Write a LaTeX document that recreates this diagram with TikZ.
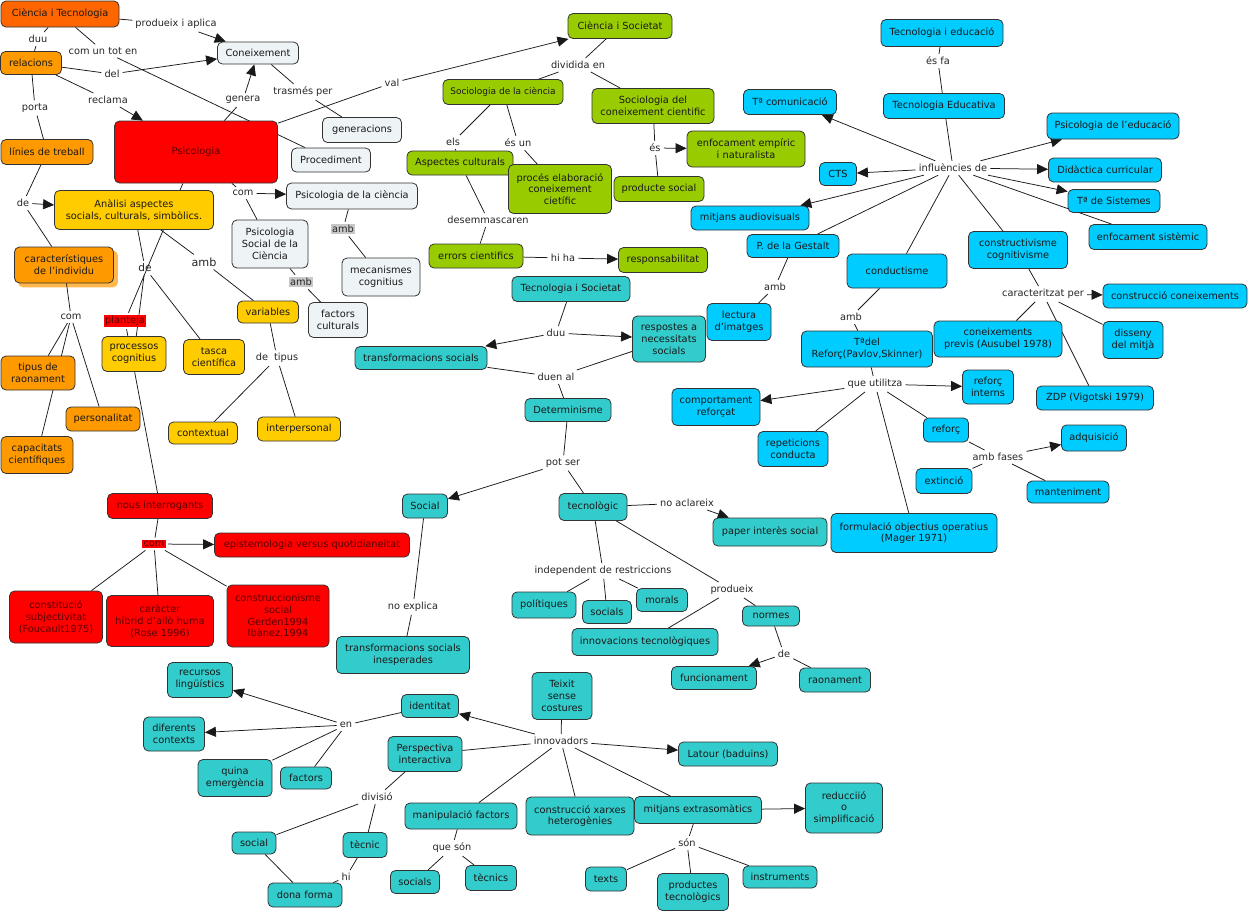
\documentclass[tikz,border=0pt]{standalone}
\usepackage{fontspec}
\setmainfont{DejaVu Sans}
\usetikzlibrary{arrows.meta, backgrounds}

\definecolor{ctorange}{HTML}{FF6600}
\definecolor{corange}{HTML}{FF9900}
\definecolor{cshadow}{HTML}{FFB84D}
\definecolor{cyellow}{HTML}{FFCC00}
\definecolor{cred}{HTML}{FF0000}
\definecolor{credtext}{HTML}{5A0000}
\definecolor{cgrey}{HTML}{EEF3F6}
\definecolor{cgreen}{HTML}{99CC00}
\definecolor{ccyan}{HTML}{00CCFF}
\definecolor{cteal}{HTML}{33CCCC}
\definecolor{cambgrey}{HTML}{C8C8C8}

\begin{document}
\begin{tikzpicture}[x=1pt, y=-1pt,
    font=\fontsize{9.8}{11.8}\selectfont,
    concept/.style={rectangle, draw=black!80, line width=0.8pt, rounded corners=5pt, align=center, inner sep=1pt, text=black!90},
    sz/.style args={#1x#2}{minimum width=#1pt, minimum height=#2pt},
    ctbox/.style={concept, fill=ctorange},
    orangebox/.style={concept, fill=corange},
    yellowbox/.style={concept, fill=cyellow},
    redbox/.style={concept, fill=cred, text=credtext},
    greybox/.style={concept, fill=cgrey},
    greenbox/.style={concept, fill=cgreen},
    cyanbox/.style={concept, fill=ccyan},
    tealbox/.style={concept, fill=cteal},
    phrase/.style={inner sep=3pt, text=black!85},
    ambtag/.style={phrase, fill=cambgrey, inner sep=1.5pt, outer sep=2pt},
    redtag/.style={phrase, fill=cred, text=credtext, inner sep=1.5pt, outer sep=2pt},
    conn/.style={line width=0.75pt, black!90},
    arrow/.style={conn, -{Triangle[length=11pt, width=10pt]}}
]
\useasboundingbox (0,0) rectangle (1250,914);

% concepts
\node[ctbox, sz=118x26] (cit) at (60,14) {Ciència i Tecnologia};
\node[orangebox, sz=61x23] (relacions) at (31,63) {relacions};
\node[orangebox, sz=92x25] (linies) at (47,152) {línies de treball};
\node[orangebox, sz=99x36] (caract) at (64,265) {característiques\\de l'individu};
\node[orangebox, sz=74x34] (tipus) at (38,373) {tipus de\\raonament};
\node[orangebox, sz=74x24] (personalitat) at (103,419) {personalitat};
\node[orangebox, sz=72x37] (capacitats) at (37,455) {capacitats\\científiques};

\node[yellowbox, sz=159x39] (analisi) at (134,210) {Anàlisi aspectes\\socials, culturals, simbòlics.};
\node[yellowbox, sz=64x35] (processos) at (134,354) {processos\\cognitius};
\node[yellowbox, sz=61x35] (tasca) at (214,357) {tasca\\científica};
\node[yellowbox, sz=61x22] (variables) at (268,312) {variables};
\node[yellowbox, sz=69x22] (contextual) at (203,433) {contextual};
\node[yellowbox, sz=83x24] (interpersonal) at (299,429) {interpersonal};

\node[redbox, sz=163x62] (psico) at (196,152) {Psicologia};
\node[redbox, sz=105x25] (nous) at (160,506) {nous interrogants};
\node[redbox, sz=195x24] (episte) at (312,545) {epistemologia versus quotidianeitat};
\node[redbox, sz=93x52] (constit) at (56,617) {constitució\\subjectivitat\\(Foucault1975)};
\node[redbox, sz=107x51] (caracter) at (160,621) {caràcter\\híbrid d'allò huma\\(Rose 1996)};
\node[redbox, sz=102x62] (construcc) at (278,616) {construccionisme\\social\\Gerden1994\\Ibànez,1994};

\node[greybox, sz=81x22] (coneix) at (258,53) {Coneixement};
\node[greybox, sz=79x25] (generacions) at (362,130) {generacions};
\node[greybox, sz=79x24] (procediment) at (331,160) {Procediment};
\node[greybox, sz=131x26] (psicociencia) at (352,196) {Psicologia de la ciència};
\node[greybox, sz=76x48] (psicosocial) at (270,244) {Psicologia\\Social de la\\Ciència};
\node[greybox, sz=78x38] (mecanismes) at (381,277) {mecanismes\\cognitius};
\node[greybox, sz=59x35] (factcult) at (338,320) {factors\\culturals};

\node[greenbox, sz=104x25] (cisoc) at (620,26) {Ciència i Societat};
\node[greenbox, sz=120x25, font=\fontsize{9}{11}\selectfont] (sociociencia) at (503,92) {Sociologia de la ciència};
\node[greenbox, sz=122x35] (socioconeix) at (653,106) {Sociologia del\\coneixement cientific};
\node[greenbox, sz=106x24] (aspectes) at (460,163) {Aspectes culturals};
\node[greenbox, sz=103x49] (proces) at (560,189) {procés elaboració\\coneixement\\cietífic};
\node[greenbox, sz=118x36] (enfocament) at (746,149) {enfocament empíric\\i naturalista};
\node[greenbox, sz=90x25] (producte) at (659,189) {producte social};
\node[greenbox, sz=94x24] (errors) at (476,256) {errors cientifics};
\node[greenbox, sz=89x25] (responsab) at (663,260) {responsabilitat};

\node[cyanbox, sz=122x27] (tecedu) at (942,33) {Tecnologia i educació};
\node[cyanbox, sz=121x25] (teceduc) at (944,106) {Tecnologia Educativa};
\node[cyanbox, sz=93x25] (tcomunic) at (790,102) {Tª comunicació};
\node[cyanbox, sz=37x23] (cts) at (838,174) {CTS};
\node[cyanbox, sz=118x24] (mitjansav) at (750,218) {mitjans audiovisuals};
\node[cyanbox, sz=132x26] (psicoedu) at (1113,126) {Psicologia de l'educació};
\node[cyanbox, sz=113x24] (didactica) at (1105,170) {Didàctica curricular};
\node[cyanbox, sz=92x23] (tsistemes) at (1114,201) {Tª de Sistemes};
\node[cyanbox, sz=118x25] (enfsistemic) at (1148,237) {enfocament sistèmic};
\node[cyanbox, sz=92x23] (gestalt) at (793,246) {P. de la Gestalt};
\node[cyanbox, sz=64x37] (lectura) at (739,322) {lectura\\d'imatges};
\node[cyanbox, sz=100x34] (conductisme) at (897,271) {conductisme};
\node[cyanbox, sz=99x37] (constructiv) at (1018,250) {constructivisme\\cognitivisme};
\node[cyanbox, sz=144x24] (construccio) at (1175,296) {construcció coneixements};
\node[cyanbox, sz=128x36] (previs) at (998,339) {coneixements\\previs (Ausubel 1978)};
\node[cyanbox, sz=60x37] (disseny) at (1133,340) {disseny\\del mitjà};
\node[cyanbox, sz=117x24] (zdp) at (1095,398) {ZDP (Vigotski 1979)};
\node[cyanbox, sz=131x36] (treforc) at (867,349) {Tªdel\\Reforç(Pavlov,Skinner)};
\node[cyanbox, sz=51x34] (interns) at (988,387) {reforç\\interns};
\node[cyanbox, sz=88x37] (comport) at (716,407) {comportament\\reforçat};
\node[cyanbox, sz=70x35] (repeticions) at (793,449) {repeticions\\conducta};
\node[cyanbox, sz=45x24] (reforc) at (946,430) {reforç};
\node[cyanbox, sz=65x26] (adquisicio) at (1094,438) {adquisició};
\node[cyanbox, sz=56x25] (extincio) at (944,481) {extinció};
\node[cyanbox, sz=82x22] (manteniment) at (1068,492) {manteniment};
\node[cyanbox, sz=166x39] (formulacio) at (914,533) {formulació objectius operatius\\(Mager 1971)};

\node[tealbox, sz=118x25] (tecsoc) at (571,289) {Tecnologia i Societat};
\node[tealbox, sz=132x23] (transf) at (421,358) {transformacions socials};
\node[tealbox, sz=73x46] (respostes) at (669,339) {respostes a\\necessitats\\socials};
\node[tealbox, sz=86x23] (determ) at (568,410) {Determinisme};
\node[tealbox, sz=45x24] (social) at (425,506) {Social};
\node[tealbox, sz=68x27] (tecnologic) at (593,507) {tecnològic};
\node[tealbox, sz=114x28] (paper) at (770,532) {paper interès social};
\node[tealbox, sz=64x26] (politiques) at (544,605) {polítiques};
\node[tealbox, sz=49x23] (socials) at (607,612) {socials};
\node[tealbox, sz=51x23] (morals) at (662,600) {morals};
\node[tealbox, sz=146x27] (innovacions) at (645,642) {innovacions tecnològiques};
\node[tealbox, sz=57x20] (normes) at (771,616) {normes};
\node[tealbox, sz=85x23] (funcionament) at (714,678) {funcionament};
\node[tealbox, sz=71x24] (raonament) at (835,680) {raonament};
\node[tealbox, sz=133x37] (inesperades) at (403,655) {transformacions socials\\inesperades};
\node[tealbox, sz=65x35] (recursos) at (200,680) {recursos\\lingüístics};
\node[tealbox, sz=61x34] (contexts) at (174,734) {diferents\\contexts};
\node[tealbox, sz=57x23] (identitat) at (430,706) {identitat};
\node[tealbox, sz=74x37] (emergencia) at (235,778) {quina\\emergència};
\node[tealbox, sz=51x22] (factors) at (306,778) {factors};
\node[tealbox, sz=74x35] (perspectiva) at (425,754) {Perspectiva\\interactiva};
\node[tealbox, sz=44x22] (socialb) at (254,843) {social};
\node[tealbox, sz=44x25] (tecnic) at (365,845) {tècnic};
\node[tealbox, sz=74x24] (donaforma) at (305,895) {dona forma};
\node[tealbox, sz=60x47] (teixit) at (562,696) {Teixit\\sense\\costures};
\node[tealbox, sz=99x24] (latour) at (728,754) {Latour (baduins)};
\node[tealbox, sz=112x26] (manipulacio) at (461,816) {manipulació factors};
\node[tealbox, sz=108x38] (xarxes) at (580,816) {construcció xarxes\\heterogènies};
\node[tealbox, sz=127x27] (extrasom) at (698,810) {mitjans extrasomàtics};
\node[tealbox, sz=77x50] (reduccio) at (844,808) {reducciió\\o\\simplificació};
\node[tealbox, sz=49x23] (socialsb) at (415,882) {socials};
\node[tealbox, sz=51x25] (tecnics) at (491,878) {tècnics};
\node[tealbox, sz=41x24] (texts) at (606,879) {texts};
\node[tealbox, sz=71x37] (productes) at (693,892) {productes\\tecnològics};
\node[tealbox, sz=74x22] (instruments) at (780,877) {instruments};

% linking phrases
\node[phrase] (produeix) at (176,24) {produeix i aplica};
\node[phrase] (duu) at (38,39) {duu};
\node[phrase] (comtot) at (103,51) {com un tot en};
\node[phrase] (del) at (112,74) {del};
\node[phrase] (reclama) at (108,100) {reclama};
\node[phrase] (porta) at (35,108) {porta};
\node[phrase] (genera) at (243,100) {genera};
\node[phrase] (trasmes) at (303,92) {trasmés per};
\node[phrase] (val) at (392,83) {val};
\node[phrase] (compsico) at (243,193) {com};
\node[phrase] (delinies) at (23,203) {de};
\node[ambtag] (ambciencia) at (343,229) {amb};
\node[ambtag] (ambsocial) at (301,282) {amb};
\node[phrase] (comcaract) at (71,317) {com};
\node[phrase, font=\fontsize{10.6}{12}\selectfont] (deanalisi) at (145,268) {de};
\node[redtag] (planteja) at (125,321) {planteja};
\node[phrase, font=\fontsize{11.2}{13}\selectfont] (ambanalisi) at (204,262) {amb};
\node[phrase] (detipus) at (277,358) {de\hspace{6pt}tipus};
\node[redtag] (comnous) at (154,544) {com};
\node[phrase] (dividida) at (578,65) {dividida en};
\node[phrase] (els) at (453,142) {els};
\node[phrase] (esun) at (518,143) {és un};
\node[phrase] (es) at (655,148) {és};
\node[phrase] (desemm) at (488,220) {desemmascaren};
\node[phrase] (hiha) at (563,258) {hi ha};
\node[phrase] (esfa) at (938,61) {és fa};
\node[phrase] (influencies) at (953,168) {influències de};
\node[phrase] (ambgestalt) at (775,287) {amb};
\node[phrase] (ambconduct) at (851,317) {amb};
\node[phrase] (caracteritzat) at (1043,294) {caracteritzat per};
\node[phrase] (utilitza) at (875,384) {que utilitza};
\node[phrase] (fases) at (998,457) {amb fases};
\node[phrase] (duutec) at (556,333) {duu};
\node[phrase] (duen) at (556,377) {duen al};
\node[phrase] (potser) at (563,463) {pot ser};
\node[phrase] (aclareix) at (687,503) {no aclareix};
\node[phrase] (independent) at (603,571) {independent de restriccions};
\node[phrase] (produeixtec) at (732,590) {produeix};
\node[phrase] (denormes) at (784,654) {de};
\node[phrase] (noexplica) at (413,607) {no explica};
\node[phrase] (en) at (346,725) {en};
\node[phrase] (innovadors) at (561,741) {innovadors};
\node[phrase] (divisio) at (377,797) {divisió};
\node[phrase] (hi) at (346,877) {hi};
\node[phrase] (queson) at (452,848) {que són};
\node[phrase] (son) at (687,843) {són};

% connectors
\begin{scope}[on background layer]
\fill[white] (0,0) rectangle (1250,914);
\fill[cshadow, rounded corners=5pt] ([shift={(4,4)}]caract.north west) rectangle ([shift={(4,4)}]caract.south east);

\draw[conn] (cit) -- (produeix);
\draw[arrow] (produeix) -- (coneix);
\draw[conn] (cit) -- (duu);
\draw[conn] (duu) -- (relacions);
\draw[conn] (cit) -- (comtot);
\draw[conn] (comtot) -- (procediment);
\draw[conn] (relacions) -- (del);
\draw[arrow] (del) -- (coneix);
\draw[conn] (relacions) -- (reclama);
\draw[arrow] (reclama) -- (psico);
\draw[conn] (relacions) -- (porta);
\draw[conn] (porta) -- (linies);
\draw[conn] (psico) -- (genera);
\draw[arrow] (genera) -- (coneix);
\draw[conn] (coneix) -- (trasmes);
\draw[conn] (trasmes) -- (generacions);
\draw[conn] (psico) -- (val);
\draw[arrow] (val) -- (cisoc);
\draw[conn] (psico) -- (compsico);
\draw[arrow] (compsico) -- (psicociencia);
\draw[conn] (compsico) -- (psicosocial);
\draw[conn] (psicociencia) -- (ambciencia);
\draw[conn] (ambciencia) -- (mecanismes);
\draw[conn] (psicosocial) -- (ambsocial);
\draw[conn] (ambsocial) -- (factcult);
\draw[conn] (linies) -- (delinies);
\draw[arrow] (delinies) -- (analisi);
\draw[conn] (delinies) -- (caract);
\draw[conn] (caract) -- (comcaract);
\draw[conn] (comcaract) -- (tipus);
\draw[conn] (comcaract) -- (personalitat);
\draw[conn] (comcaract) -- (capacitats);
\draw[conn] (analisi) -- (deanalisi);
\draw[conn] (deanalisi) -- (processos);
\draw[conn] (deanalisi) -- (tasca);
\draw[conn] (psico) -- (planteja);
\draw[conn] (planteja) -- (nous);
\draw[conn] (analisi) -- (ambanalisi);
\draw[conn] (ambanalisi) -- (variables);
\draw[conn] (variables) -- (detipus);
\draw[conn] (detipus) -- (contextual);
\draw[conn] (detipus) -- (interpersonal);
\draw[conn] (nous) -- (comnous);
\draw[arrow] (comnous) -- (episte);
\draw[conn] (comnous) -- (constit);
\draw[conn] (comnous) -- (caracter);
\draw[conn] (comnous) -- (construcc);

\draw[conn] (cisoc) -- (dividida);
\draw[conn] (dividida) -- (sociociencia);
\draw[conn] (dividida) -- (socioconeix);
\draw[conn] (sociociencia) -- (els);
\draw[conn] (els) -- (aspectes);
\draw[conn] (sociociencia) -- (esun);
\draw[conn] (esun) -- (proces);
\draw[conn] (socioconeix) -- (es);
\draw[arrow] (es) -- (enfocament);
\draw[conn] (es) -- (producte);
\draw[conn] (aspectes) -- (desemm);
\draw[conn] (desemm) -- (errors);
\draw[conn] (errors) -- (hiha);
\draw[arrow] (hiha) -- (responsab);

\draw[conn] (tecedu) -- (esfa);
\draw[conn] (esfa) -- (teceduc);
\draw[conn] (teceduc) -- (influencies);
\draw[arrow] (influencies) -- (tcomunic);
\draw[arrow] (influencies) -- (cts);
\draw[arrow] (influencies) -- (mitjansav);
\draw[arrow] (influencies) -- (psicoedu);
\draw[arrow] (influencies) -- (didactica);
\draw[arrow] (influencies) -- (tsistemes);
\draw[conn] (influencies) -- (enfsistemic);
\draw[conn] (influencies) -- (gestalt);
\draw[conn] (influencies) -- (conductisme);
\draw[conn] (influencies) -- (constructiv);
\draw[conn] (gestalt) -- (ambgestalt);
\draw[conn] (ambgestalt) -- (lectura);
\draw[conn] (conductisme) -- (ambconduct);
\draw[conn] (ambconduct) -- (treforc);
\draw[conn] (constructiv) -- (caracteritzat);
\draw[arrow] (caracteritzat) -- (construccio);
\draw[conn] (caracteritzat) -- (previs);
\draw[conn] (caracteritzat) -- (disseny);
\draw[conn] (caracteritzat) -- (zdp);
\draw[conn] (treforc) -- (utilitza);
\draw[arrow] (utilitza) -- (interns);
\draw[arrow] (utilitza) -- (comport);
\draw[conn] (utilitza) -- (repeticions);
\draw[conn] (utilitza) -- (reforc);
\draw[conn] (utilitza) -- (formulacio);
\draw[conn] (reforc) -- (fases);
\draw[arrow] (fases) -- (adquisicio);
\draw[conn] (fases) -- (extincio);
\draw[conn] (fases) -- (manteniment);

\draw[conn] (tecsoc) -- (duutec);
\draw[arrow] (duutec) -- (transf);
\draw[arrow] (duutec) -- (respostes);
\draw[conn] (transf) -- (duen);
\draw[conn] (respostes) -- (duen);
\draw[conn] (duen) -- (determ);
\draw[conn] (determ) -- (potser);
\draw[arrow] (potser) -- (social);
\draw[conn] (potser) -- (tecnologic);
\draw[conn] (tecnologic) -- (aclareix);
\draw[arrow] (aclareix) -- (paper);
\draw[conn] (tecnologic) -- (independent);
\draw[conn] (independent) -- (politiques);
\draw[conn] (independent) -- (socials);
\draw[conn] (independent) -- (morals);
\draw[conn] (tecnologic) -- (produeixtec);
\draw[conn] (produeixtec) -- (innovacions);
\draw[conn] (produeixtec) -- (normes);
\draw[conn] (normes) -- (denormes);
\draw[arrow] (denormes) -- (funcionament);
\draw[conn] (denormes) -- (raonament);
\draw[conn] (social) -- (noexplica);
\draw[conn] (noexplica) -- (inesperades);

\draw[conn] (identitat) -- (en);
\draw[arrow] (en) -- (recursos);
\draw[arrow] (en) -- (contexts);
\draw[conn] (en) -- (emergencia);
\draw[conn] (en) -- (factors);
\draw[conn] (teixit) -- (innovadors);
\draw[arrow] (innovadors) -- (identitat);
\draw[arrow] (innovadors) -- (latour);
\draw[conn] (innovadors) -- (perspectiva);
\draw[conn] (innovadors) -- (manipulacio);
\draw[conn] (innovadors) -- (xarxes);
\draw[conn] (innovadors) -- (extrasom);
\draw[arrow] (extrasom) -- (reduccio);
\draw[conn] (perspectiva) -- (divisio);
\draw[conn] (divisio) -- (socialb);
\draw[conn] (divisio) -- (tecnic);
\draw[conn] (tecnic) -- (hi);
\draw[conn] (hi) -- (donaforma);
\draw[conn] (socialb) -- (donaforma);
\draw[conn] (manipulacio) -- (queson);
\draw[conn] (queson) -- (socialsb);
\draw[conn] (queson) -- (tecnics);
\draw[conn] (extrasom) -- (son);
\draw[conn] (son) -- (texts);
\draw[conn] (son) -- (productes);
\draw[conn] (son) -- (instruments);
\end{scope}
\end{tikzpicture}
\end{document}
